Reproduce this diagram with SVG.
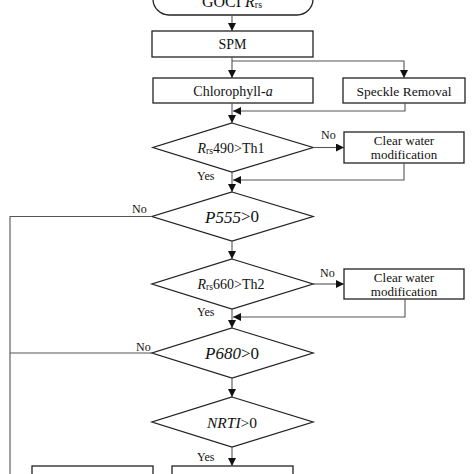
<svg xmlns="http://www.w3.org/2000/svg" width="474" height="474" viewBox="0 0 474 474">
<defs>
<marker id="ah" viewBox="0 0 8 8" refX="8" refY="4" markerWidth="8" markerHeight="8" markerUnits="userSpaceOnUse" orient="auto">
<path d="M0,0 L8,4 L0,8 Z" fill="#111"/>
</marker>
</defs>
<style>
.box{fill:#fff;stroke:#222;stroke-width:1.3}
.con{fill:none;stroke:#555;stroke-width:1.1}
.t{font-family:"Liberation Serif","Times New Roman",serif;fill:#111;text-anchor:middle;dominant-baseline:central}
.f13{font-size:14px}
.f12{font-size:13.5px}
.cw{font-size:13px}
.f16{font-size:17px}
.lab{font-family:"Liberation Serif","Times New Roman",serif;fill:#111;font-size:12px}
.i{font-style:italic}
</style>
<rect width="474" height="474" fill="#fff"/>
<g id="start">
<rect class="box" x="153" y="-22" width="160" height="37" rx="16"/>
<text class="t" font-size="16" x="232" y="1">GOCI <tspan class="i">R</tspan><tspan font-size="10" dy="3">rs</tspan></text>
</g>
<g id="spm">
<rect class="box" x="152" y="31" width="161" height="26"/>
<text class="t f13" x="232.5" y="44">SPM</text>
</g>
<g id="chl">
<rect class="box" x="153" y="78" width="160" height="25"/>
<text class="t f13" x="233" y="91">Chlorophyll-<tspan class="i">a</tspan></text>
</g>
<g id="speckle">
<rect class="box" x="343" y="78" width="122" height="25"/>
<text class="t f12" x="404" y="91">Speckle Removal</text>
</g>
<g id="d1">
<polygon class="box" points="232,123 313,147.5 232,172 153,147.5"/>
<text class="t f13" x="231" y="147.5"><tspan class="i">R</tspan><tspan font-size="9.5" dy="3">rs</tspan><tspan dy="-3">490&gt;Th1</tspan></text>
</g>
<g id="cw1">
<rect class="box" x="344" y="132" width="120" height="31"/>
<text class="t cw" x="404" y="140">Clear water</text>
<text class="t cw" x="404" y="154">modification</text>
</g>
<g id="d2">
<polygon class="box" points="232,192 313,216.5 232,241 152,216.5"/>
<text class="t f16" x="232" y="216.5"><tspan class="i">P555</tspan>&gt;0</text>
</g>
<g id="d3">
<polygon class="box" points="232,259 313,284 232,309 152,284"/>
<text class="t f13" x="231" y="284"><tspan class="i">R</tspan><tspan font-size="9.5" dy="3">rs</tspan><tspan dy="-3">660&gt;Th2</tspan></text>
</g>
<g id="cw2">
<rect class="box" x="344" y="269" width="120" height="30"/>
<text class="t cw" x="404" y="277">Clear water</text>
<text class="t cw" x="404" y="291">modification</text>
</g>
<g id="d4">
<polygon class="box" points="232,328 313,353 232,378 152,353"/>
<text class="t f16" x="232" y="353"><tspan class="i">P680</tspan>&gt;0</text>
</g>
<g id="d5">
<polygon class="box" points="232,397 313,422 232,447 152,422"/>
<text class="t" font-size="15.5" x="232" y="422"><tspan class="i">NRTI</tspan>&gt;0</text>
</g>
<g id="out1">
<rect class="box" x="32" y="466" width="121" height="20"/>
</g>
<g id="out2">
<rect class="box" x="172" y="466" width="121" height="20"/>
</g>
<g id="connectors">
<line class="con" x1="232" y1="15" x2="232" y2="31" marker-end="url(#ah)"/>
<line class="con" x1="232" y1="57" x2="232" y2="78" marker-end="url(#ah)"/>
<polyline class="con" points="232,61 404,61 404,78" marker-end="url(#ah)"/>
<line class="con" x1="232" y1="103" x2="232" y2="123" marker-end="url(#ah)"/>
<polyline class="con" points="405,103 405,111 233,111" marker-end="url(#ah)"/>
<line class="con" x1="313" y1="147.5" x2="344" y2="147.5" marker-end="url(#ah)"/>
<polyline class="con" points="404,163 404,180 233,180" marker-end="url(#ah)"/>
<line class="con" x1="232" y1="172" x2="232" y2="192" marker-end="url(#ah)"/>
<line class="con" x1="232" y1="241" x2="232" y2="259" marker-end="url(#ah)"/>
<polyline class="con" points="152,216.5 10,216.5 10,474"/>
<line class="con" x1="313" y1="284" x2="344" y2="284" marker-end="url(#ah)"/>
<polyline class="con" points="405,299 405,317 233,317" marker-end="url(#ah)"/>
<line class="con" x1="232" y1="309" x2="232" y2="328" marker-end="url(#ah)"/>
<line class="con" x1="152" y1="353" x2="10" y2="353"/>
<line class="con" x1="232" y1="378" x2="232" y2="397" marker-end="url(#ah)"/>
<line class="con" x1="232" y1="447" x2="232" y2="466" marker-end="url(#ah)"/>
<text class="lab" x="321" y="139">No</text>
<text class="lab" x="197" y="180">Yes</text>
<text class="lab" x="132" y="213">No</text>
<text class="lab" x="320" y="277">No</text>
<text class="lab" x="197" y="316">Yes</text>
<text class="lab" x="136" y="351">No</text>
<text class="lab" x="197" y="461">Yes</text>
</g>
</svg>
